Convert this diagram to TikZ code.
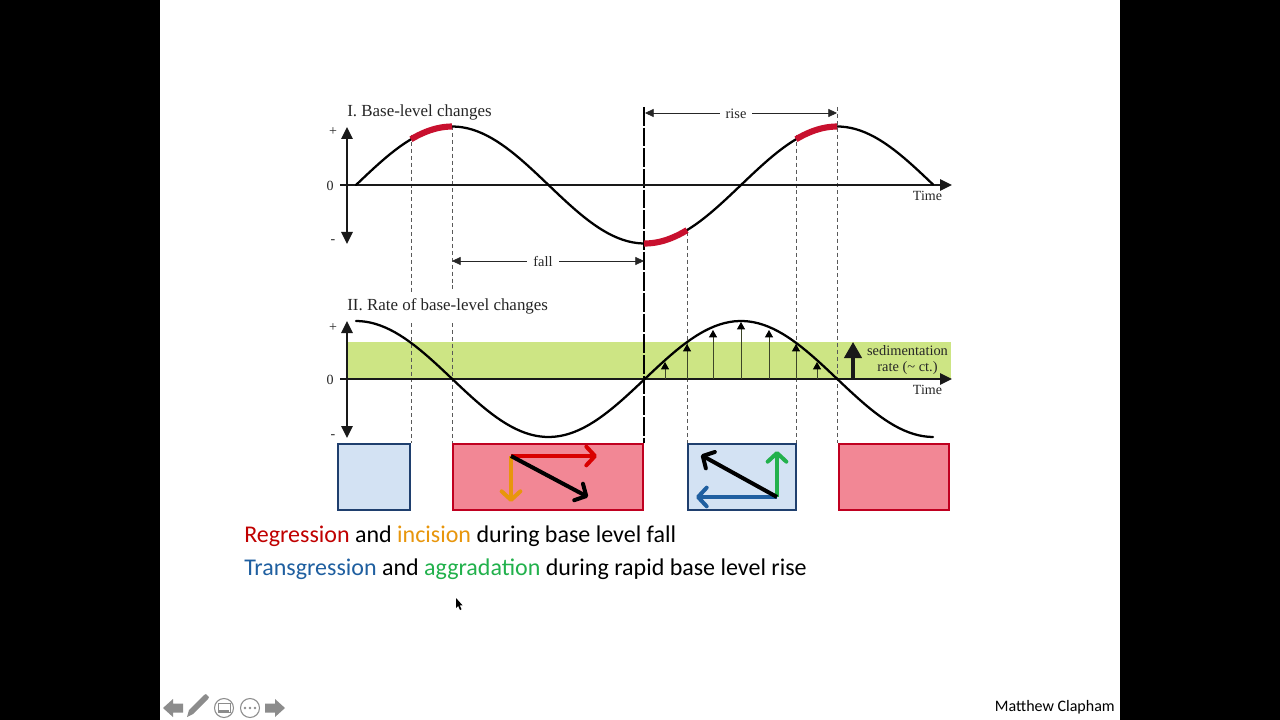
\documentclass[tikz,border=0pt]{standalone}
\usepackage{fontspec}
\setmainfont{Liberation Serif}
\newfontfamily\slidefont{Carlito}
\usetikzlibrary{arrows.meta}
\definecolor{bandgreen}{HTML}{CDE584}
\definecolor{curvered}{HTML}{C8102E}
\definecolor{boxblue}{HTML}{D3E2F3}
\definecolor{edgeblue}{HTML}{1F3F6E}
\definecolor{boxred}{HTML}{F28795}
\definecolor{edgered}{HTML}{C00020}
\definecolor{txtred}{HTML}{C00000}
\definecolor{txtorange}{HTML}{E8960C}
\definecolor{txtblue}{HTML}{1F5FA0}
\definecolor{txtgreen}{HTML}{22B14C}
\definecolor{icongrey}{HTML}{8C8C8C}
\tikzset{
  axisline/.style={line width=1.2pt,black!90},
  axisboth/.style={axisline,{Triangle[length=9pt,width=8.5pt]}-{Triangle[length=9pt,width=8.5pt]}},
  axisright/.style={axisline,-{Triangle[length=9pt,width=8.5pt]}},
  curve/.style={line width=1.7pt,black,line cap=round},
  redseg/.style={line width=4.6pt,curvered},
  thindash/.style={line width=0.6pt,black!65,dash pattern=on 3pt off 2.2pt},
  thickdash/.style={line width=1.1pt,black,dash pattern=on 14pt off 1.5pt},
  dimline/.style={line width=0.55pt,black!85,{Triangle[length=6.5pt,width=6pt]}-{Triangle[length=6.5pt,width=6pt]}},
  dimlabel/.style={fill=white,inner sep=1pt,font=\fontsize{10.8}{12}\selectfont,text=black!85},
  title/.style={anchor=west,inner sep=0pt,font=\fontsize{12.7}{14}\selectfont,text=black!85},
  ticklabel/.style={inner sep=0pt,font=\fontsize{10.5}{12}\selectfont,text=black!85},
  smallarrow/.style={line width=0.7pt,black!70!bandgreen,-{Triangle[length=5.5pt,width=6pt,black]}},
  bluebox/.style={draw=edgeblue,fill=boxblue,line width=1.7pt,inner sep=0pt},
  redbox/.style={draw=edgered,fill=boxred,line width=1.7pt,inner sep=0pt},
  barb/.style={line width=3pt,-{Straight Barb[round,length=6.5pt,width=14pt,line width=3pt]}},
  slidetxt/.style={anchor=west,inner sep=0pt,font=\slidefont\fontsize{18}{20}\selectfont,text=black},
  icon/.style={fill=icongrey,draw=none},
  iconring/.style={draw=icongrey,line width=0.8pt,fill=white}
}
\begin{document}
\begin{tikzpicture}[x=0.75pt,y=-0.75pt]
\useasboundingbox (0,0) rectangle (1280,720);
\fill[white] (0,0) rectangle (1280,720);
\fill[black] (0,0) rectangle (160,720);
\fill[black] (1120,0) rectangle (1280,720);

% band
\fill[bandgreen] (347,342) rectangle (951,379);

% key coordinates
\coordinate (a1) at (411,135); \coordinate (a2) at (411,292);
\coordinate (a3) at (411,323); \coordinate (a4) at (411,443);
\coordinate (b1) at (452,126); \coordinate (b2) at (452,292);
\coordinate (b3) at (452,323); \coordinate (b4) at (452,443);
\coordinate (c1) at (644,107); \coordinate (c2) at (644,443);
\coordinate (d1) at (687,232); \coordinate (d2) at (687,443);
\coordinate (e1) at (796,135); \coordinate (e2) at (796,443);
\coordinate (f1) at (837,107); \coordinate (f2) at (837,443);
\draw[thindash] (a1) -- (a2);
\draw[thindash] (a3) -- (a4);
\draw[thindash] (b1) -- (b2);
\draw[thindash] (b3) -- (b4);
\draw[thindash] (d1) -- (d2);
\draw[thindash] (e1) -- (e2);
\draw[thindash] (f1) -- (f2);
\draw[thickdash] (c1) -- (c2);

% panel I
\coordinate (i0) at (340,185); \coordinate (i1) at (952,185);
\coordinate (iu) at (347,127); \coordinate (id) at (347,244);
\draw[axisright] (i0) -- (i1);
\draw[axisboth] (iu) -- (id);
\draw[curve] plot[domain=356:933,samples=120] (\x,{185-58.5*sin((\x-356)*0.93506)});
\draw[redseg] plot[domain=411:452,samples=12] (\x,{185-58.5*sin((\x-356)*0.93506)});
\draw[redseg] plot[domain=644:687,samples=12] (\x,{185-58.5*sin((\x-356)*0.93506)});
\draw[redseg] plot[domain=796:837,samples=12] (\x,{185-58.5*sin((\x-356)*0.93506)});
\node[title] (t1) at (347,112.5) {I. Base-level changes};
\node[ticklabel] (p1) at (333,132) {+};
\node[ticklabel] (z1) at (330,186) {0};
\node[ticklabel] (m1) at (333,242) {-};
\node[ticklabel] (time1) at (927.5,196) {Time};

% dimension lines
\coordinate (fallL) at (452,261); \coordinate (fallR) at (644,261);
\coordinate (riseL) at (645,113); \coordinate (riseR) at (837,113);
\draw[dimline] (fallL) -- (fallR);
\node[dimlabel,minimum width=24pt] (fall) at (543,262) {fall};
\draw[dimline] (riseL) -- (riseR);
\node[dimlabel,minimum width=24pt] (rise) at (736,114) {rise};

% panel II
\coordinate (j0) at (340,379); \coordinate (j1) at (952,379);
\coordinate (ju) at (347,321); \coordinate (jd) at (347,438);
\draw[axisright] (j0) -- (j1);
\draw[axisboth] (ju) -- (jd);
\foreach \sx/\sy in {665/362,687/344,713/330,741/322,769/330,796/344,817/362}{
  \coordinate (sb) at (\sx,379); \coordinate (st) at (\sx,\sy);
  \draw[smallarrow] (sb) -- (st);
}
\draw[curve] plot[domain=356:933,samples=120] (\x,{379-58*cos((\x-356)*0.93506)});
\coordinate (sedb) at (853,379); \coordinate (sedt) at (853,342);
\draw[line width=2.4pt,black!90,-{Triangle[length=12pt,width=13pt]}] (sedb) -- (sedt);
\node[title] (t2) at (347,306.5) {II. Rate of base-level changes};
\node[ticklabel] (p2) at (333,328) {+};
\node[ticklabel] (z2) at (330,380) {0};
\node[ticklabel] (m2) at (333,437) {-};
\node[ticklabel] (time2) at (927.5,390) {Time};
\node[ticklabel,align=center,font=\fontsize{10.8}{12.2}\selectfont] (sed) at (907.5,360) {sedimentation\\rate (\textasciitilde{} ct.)};

% boxes
\node[bluebox,minimum width=53.5pt,minimum height=50pt] (box1) at (374,477) {};
\node[redbox,minimum width=142.5pt,minimum height=50pt] (box2) at (548,477) {};
\node[bluebox,minimum width=81pt,minimum height=50pt] (box3) at (742,477) {};
\node[redbox,minimum width=82.5pt,minimum height=50pt] (box4) at (894,477) {};

% arrows in boxes
\coordinate (q) at (511,456);
\coordinate (qr) at (597,456); \coordinate (qo) at (511,502); \coordinate (qb) at (588,497);
\draw[barb,txtorange] (q) -- (qo);
\draw[barb,red!85!black] (q) -- (qr);
\draw[barb,black] (q) -- (qb);
\coordinate (w) at (777,497);
\coordinate (wk) at (701,455); \coordinate (wg) at (777,451); \coordinate (wb) at (696,497);
\draw[barb,txtgreen] (w) -- (wg);
\draw[barb,txtblue] (w) -- (wb);
\draw[barb,black] (w) -- (wk);

% slide text
\node[slidetxt] (line1) at (244,536) {\textcolor{txtred}{Regression} and \textcolor{txtorange}{incision} during base level fall};
\node[slidetxt] (line2) at (244,569) {\textcolor{txtblue}{Transgression} and \textcolor{txtgreen}{aggradation} during rapid base level rise};
\node[anchor=east,inner sep=0pt,font=\slidefont\fontsize{12}{14}\selectfont] (author) at (1115,707) {Matthew Clapham};

% cursor
\fill[black] (456,598) -- (456,608) -- (458.2,606) -- (460,610) -- (461.5,609.3) -- (459.8,605.5) -- (462.5,605.3) -- cycle;

% slideshow controls
\fill[icon] (163,708) -- (173,699) -- (173,703.5) -- (183,703.5) -- (183,712.5) -- (173,712.5) -- (173,717) -- cycle;
\fill[icon] (187,717) -- (189,710) -- (204,695) -- (206,694) -- (209,697) -- (208,699) -- (193,714) -- cycle;
\draw[iconring] (224,708) circle (9.5);
\draw[icongrey,line width=0.7pt] (218,703) rectangle (230,712);
\fill[icongrey] (219,710) rectangle (229,712);
\draw[iconring] (250,708) circle (9.5);
\fill[icongrey] (245,708) circle (1.3) (250,708) circle (1.3) (255,708) circle (1.3);
\fill[icon] (285,708) -- (275,699) -- (275,703.5) -- (265,703.5) -- (265,712.5) -- (275,712.5) -- (275,717) -- cycle;
\end{tikzpicture}
\end{document}
